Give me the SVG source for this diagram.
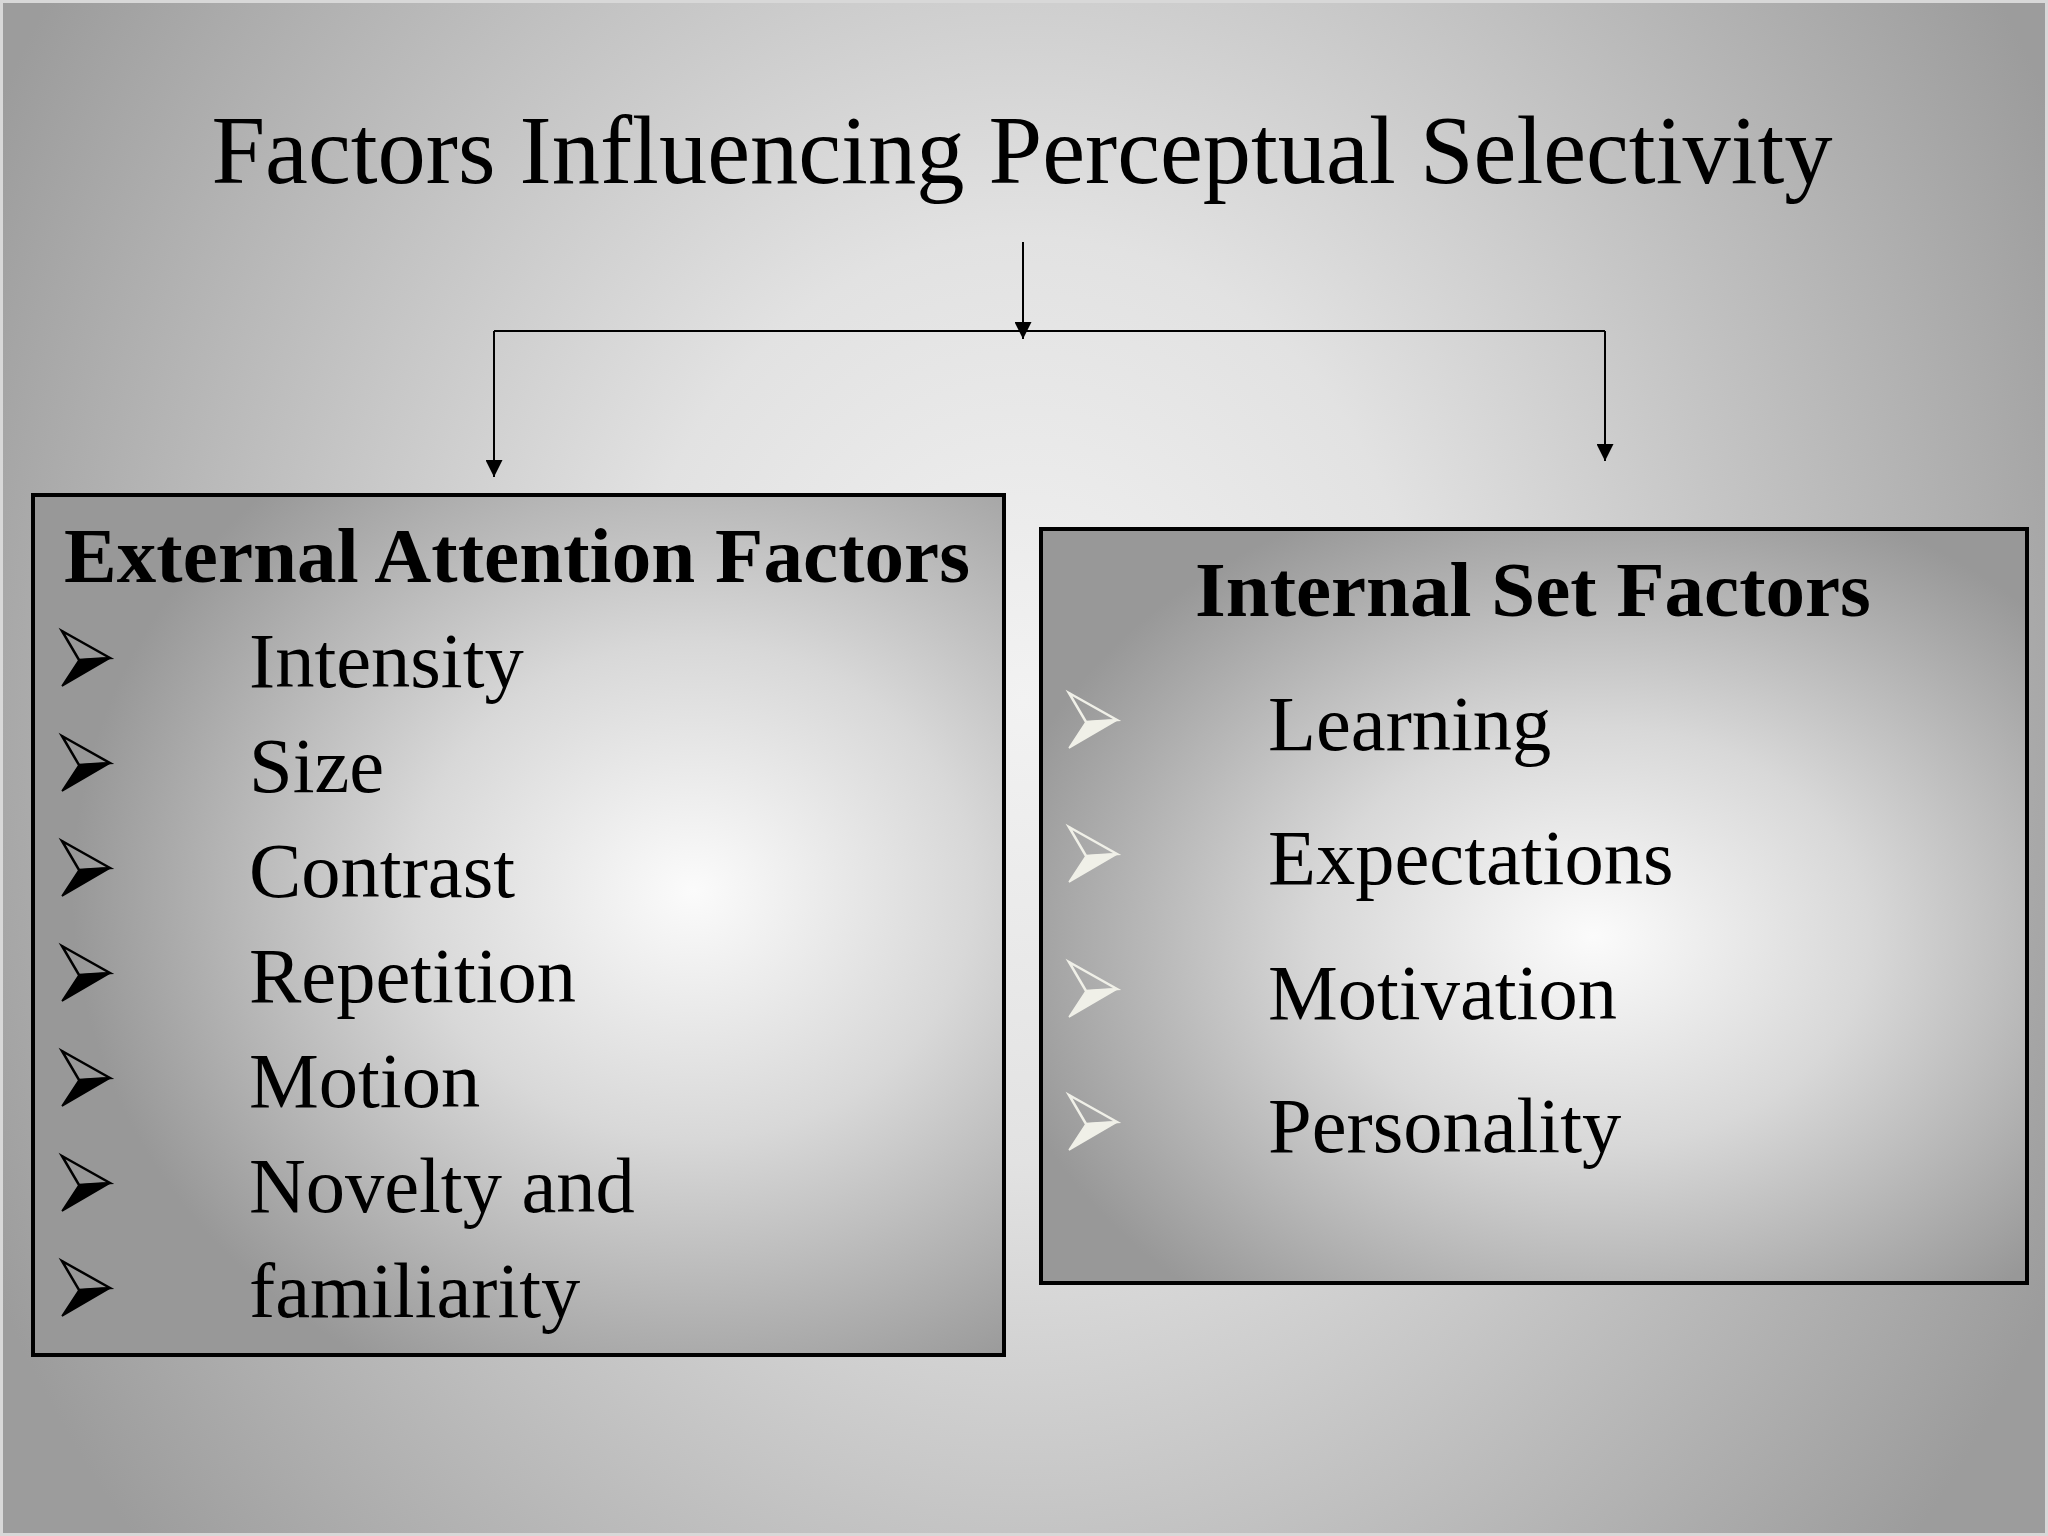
<svg xmlns="http://www.w3.org/2000/svg" xmlns:xlink="http://www.w3.org/1999/xlink" width="2048" height="1536" viewBox="0 0 2048 1536">
<defs>
<radialGradient id="bg" gradientUnits="userSpaceOnUse" cx="1024" cy="700" r="1150" gradientTransform="translate(1024 700) scale(1 1.15) translate(-1024 -700)">
<stop offset="0" stop-color="#f2f2f2"/>
<stop offset="0.35" stop-color="#e2e2e2"/>
<stop offset="1" stop-color="#9c9c9c"/>
</radialGradient>
<radialGradient id="gl" cx="0.68" cy="0.46" r="0.64">
<stop offset="0" stop-color="#fbfbfb"/>
<stop offset="0.45" stop-color="#d8d8d8"/>
<stop offset="1" stop-color="#989898"/>
</radialGradient>
<radialGradient id="gr" cx="0.56" cy="0.54" r="0.62">
<stop offset="0" stop-color="#fbfbfb"/>
<stop offset="0.45" stop-color="#d8d8d8"/>
<stop offset="1" stop-color="#989898"/>
</radialGradient>
<marker id="ah" viewBox="0 0 18 17" refX="17" refY="8.5" markerWidth="18" markerHeight="17" markerUnits="userSpaceOnUse" orient="auto">
<path d="M0,0 L17,8.5 L0,17 Z" fill="#000"/>
</marker>
<g id="bulletDark">
<path d="M0,0 L48,27 L17,29 Z" fill="none" stroke="#000" stroke-width="2.5" stroke-linejoin="miter"/>
<path d="M17,29 L48,27 L0,55 Z" fill="#000" stroke="#000" stroke-width="1.5"/>
</g>
<g id="bulletLight">
<path d="M0,0 L48,27 L17,29 Z" fill="none" stroke="#f0f0e8" stroke-width="2.5"/>
<path d="M17,29 L48,27 L0,55 Z" fill="#f0f0e8" stroke="#f0f0e8" stroke-width="1.5"/>
</g>
<style>
.title{font-family:"Liberation Serif","Times New Roman",serif;font-size:96.5px;fill:#000}
.head{font-family:"Liberation Serif","Times New Roman",serif;font-size:79px;font-weight:bold;fill:#000}
.item{font-family:"Liberation Serif","Times New Roman",serif;font-size:78.5px;fill:#000}
.box{stroke:#000;stroke-width:4}
.conn{stroke:#000;stroke-width:2;fill:none}
</style>
</defs>
<rect x="0" y="0" width="2048" height="1536" fill="url(#bg)"/>
<rect x="1.5" y="1.5" width="2045" height="1533" fill="none" stroke="#d8d8d8" stroke-width="3"/>

<g id="title">
<text class="title" x="1022" y="183" text-anchor="middle">Factors Influencing Perceptual Selectivity</text>
</g>

<g id="connectors">
<line class="conn" x1="1023" y1="242" x2="1023" y2="339" marker-end="url(#ah)"/>
<line class="conn" x1="494" y1="331" x2="1605" y2="331"/>
<line class="conn" x1="494" y1="331" x2="494" y2="477" marker-end="url(#ah)"/>
<line class="conn" x1="1605" y1="331" x2="1605" y2="461" marker-end="url(#ah)"/>
</g>

<g id="external">
<rect class="box" x="33" y="495" width="971" height="860" fill="url(#gl)"/>
<text class="head" x="64" y="582" textLength="906">External Attention Factors</text>
<use xlink:href="#bulletDark" x="62" y="631"/>
<text class="item" x="249" y="687">Intensity</text>
<use xlink:href="#bulletDark" x="62" y="736"/>
<text class="item" x="249" y="792">Size</text>
<use xlink:href="#bulletDark" x="62" y="841"/>
<text class="item" x="249" y="897">Contrast</text>
<use xlink:href="#bulletDark" x="62" y="946"/>
<text class="item" x="249" y="1002">Repetition</text>
<use xlink:href="#bulletDark" x="62" y="1051"/>
<text class="item" x="249" y="1107">Motion</text>
<use xlink:href="#bulletDark" x="62" y="1156"/>
<text class="item" x="249" y="1212">Novelty and</text>
<use xlink:href="#bulletDark" x="62" y="1261"/>
<text class="item" x="249" y="1317">familiarity</text>
</g>

<g id="internal">
<rect class="box" x="1041" y="529" width="986" height="754" fill="url(#gr)"/>
<text class="head" x="1195" y="616">Internal Set Factors</text>
<use xlink:href="#bulletLight" x="1069" y="693"/>
<text class="item" x="1268" y="750">Learning</text>
<use xlink:href="#bulletLight" x="1069" y="827"/>
<text class="item" x="1268" y="884">Expectations</text>
<use xlink:href="#bulletLight" x="1069" y="962"/>
<text class="item" x="1268" y="1019">Motivation</text>
<use xlink:href="#bulletLight" x="1069" y="1095"/>
<text class="item" x="1268" y="1152">Personality</text>
</g>
</svg>
